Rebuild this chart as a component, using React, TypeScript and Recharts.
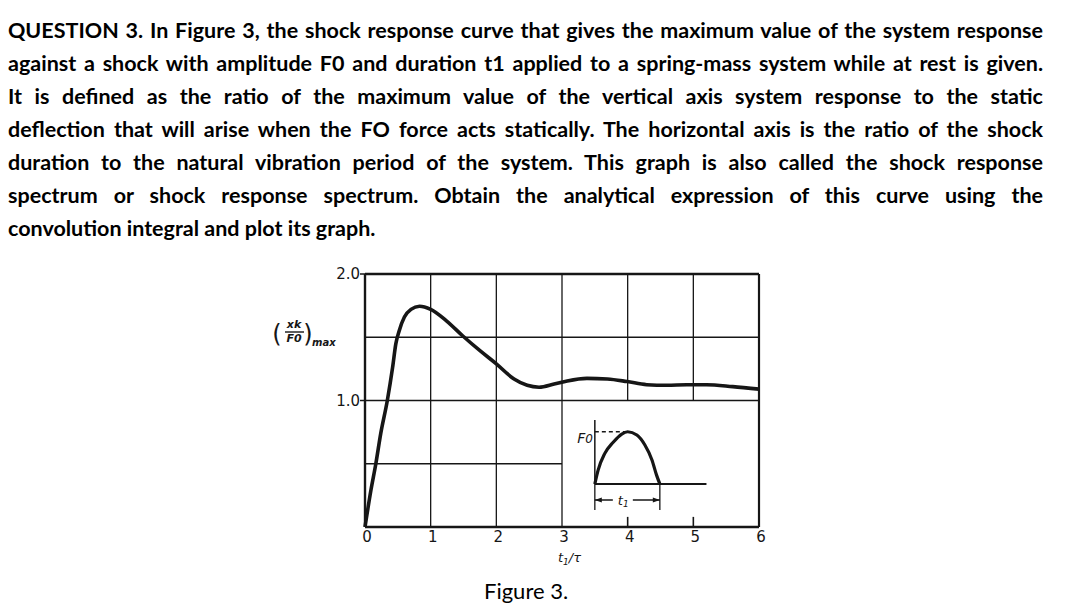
import React from 'react';
import { LineChart, Line, XAxis, YAxis, ReferenceLine } from 'recharts';

const questionLines = [
  'QUESTION 3. In Figure 3, the shock response curve that gives the maximum value of the system response',
  'against a shock with amplitude F0 and duration t1 applied to a spring-mass system while at rest is given.',
  'It is defined as the ratio of the maximum value of the vertical axis system response to the static',
  'deflection that will arise when the FO force acts statically. The horizontal axis is the ratio of the shock',
  'duration to the natural vibration period of the system. This graph is also called the shock response',
  'spectrum or shock response spectrum. Obtain the analytical expression of this curve using the',
  'convolution integral and plot its graph.',
];

// t1/tau values and (xk/F0)max
const ratio = [
  0, 0.09, 0.165, 0.24, 0.34, 0.42, 0.47, 0.52, 0.6, 0.7, 0.83, 1.0, 1.24, 1.49, 1.76, 2.0,
  2.27, 2.47, 2.65, 2.88, 3.08, 3.38, 3.69, 3.99, 4.29, 4.6, 4.9, 5.2, 5.6, 6.0,
];
const response = [
  0, 0.29, 0.5, 0.74, 1.0, 1.26, 1.45, 1.55, 1.66, 1.72, 1.745, 1.72, 1.63, 1.51, 1.39, 1.29,
  1.17, 1.12, 1.105, 1.13, 1.155, 1.175, 1.17, 1.15, 1.125, 1.12, 1.125, 1.125, 1.11, 1.09,
];

// the small half-sine pulse sketch drawn inside the plot
const pulseTime = [3.5, 3.55, 3.65, 3.78, 3.91, 4.0, 4.14, 4.26, 4.37, 4.44, 4.49];
const pulseForce = [0.34, 0.45, 0.58, 0.67, 0.735, 0.753, 0.727, 0.65, 0.53, 0.41, 0.34];

const xTicks = [0, 1, 2, 3, 4, 5, 6];
const yTicks = [1, 2];

const curveData = ratio.map((x, i) => ({ x, y: response[i] }));
const pulseData = pulseTime.map((x, i) => ({ x, y: pulseForce[i] }));

const INK = '#161616';
const CHART_FONT = '"DejaVu Sans", sans-serif';

const YLabel = ({ viewBox }: any) => {
  const x0 = viewBox.x - 38;
  const y0 = viewBox.y;
  return (
    <g fill={INK} fontFamily={CHART_FONT}>
      <text x={x0} y={y0 + 68} fontSize={24} textAnchor="middle">(</text>
      <text x={x0 + 17} y={y0 + 54} fontSize={11} fontStyle="italic" fontWeight="bold" textAnchor="middle">xk</text>
      <line x1={x0 + 8} x2={x0 + 27} y1={y0 + 58} y2={y0 + 58} stroke={INK} strokeWidth={1.4} />
      <text x={x0 + 17} y={y0 + 68} fontSize={11} fontStyle="italic" fontWeight="bold" textAnchor="middle">F0</text>
      <text x={x0 + 31} y={y0 + 68} fontSize={24} textAnchor="middle">)</text>
      <text x={x0 + 35} y={y0 + 72} fontSize={10} fontStyle="italic" fontWeight="bold">max</text>
    </g>
  );
};

const XLabel = ({ viewBox }: any) => (
  <text x={viewBox.x + 193} y={viewBox.y + 35} fill={INK} fontFamily={CHART_FONT} fontStyle="italic" fontSize={13}>
    t<tspan fontSize={9} dy={3}>1</tspan>
    <tspan dy={-3}>/τ</tspan>
  </text>
);

const ForceLabel = ({ viewBox }: any) => (
  <text x={viewBox.x - 2} y={viewBox.y + 11} textAnchor="end" fill={INK} fontFamily={CHART_FONT} fontStyle="italic" fontSize={14}>
    F<tspan fontSize={12}>0</tspan>
  </text>
);

const DurationLabel = ({ viewBox }: any) => {
  const cx = viewBox.x + 28;
  return (
    <g>
      <rect x={cx - 10} y={viewBox.y - 6} width={20} height={12} fill="#fff" />
      <text x={cx - 5} y={viewBox.y + 5} fill={INK} fontFamily={CHART_FONT} fontStyle="italic" fontSize={13}>
        t<tspan fontSize={9} dy={2}>1</tspan>
      </text>
    </g>
  );
};

const ArrowLine = (props: any) => {
  const { x1, y1, x2, y2 } = props;
  const head = 7;
  return (
    <g>
      <line x1={x1} y1={y1} x2={x2} y2={y2} stroke={INK} strokeWidth={1.4} />
      <polygon points={`${x1},${y1} ${x1 + head},${y1 - 2.5} ${x1 + head},${y1 + 2.5}`} fill={INK} />
      <polygon points={`${x2},${y2} ${x2 - head},${y2 - 2.5} ${x2 - head},${y2 + 2.5}`} fill={INK} />
    </g>
  );
};

const seg = (xa: number, ya: number, xb: number, yb: number) => [
  { x: xa, y: ya },
  { x: xb, y: yb },
];

const ShockChart = () => (
  <LineChart width={520} height={330} margin={{ top: 19, right: 21, left: 55, bottom: 28 }}>
    <XAxis
      type="number"
      dataKey="x"
      domain={[0, 6]}
      ticks={xTicks}
      tickLine={false}
      tickSize={0}
      tickMargin={4}
      axisLine={{ stroke: INK, strokeWidth: 2.4 }}
      tick={{ fill: INK, fontSize: 15, fontFamily: CHART_FONT, dx: 2 }}
      height={30}
      label={(p: any) => <XLabel {...p} />}
    />
    <YAxis
      type="number"
      dataKey="y"
      domain={[0, 2]}
      ticks={yTicks}
      width={50}
      tickSize={5}
      tickMargin={0}
      tickFormatter={(v: number) => v.toFixed(1)}
      tickLine={{ stroke: INK, strokeWidth: 1.5 }}
      axisLine={{ stroke: INK, strokeWidth: 2.4 }}
      tick={{ fill: INK, fontSize: 15, fontFamily: CHART_FONT }}
      label={(p: any) => <YLabel {...p} />}
    />

    {/* frame and the partial grid */}
    <ReferenceLine y={2} stroke={INK} strokeWidth={2.4} />
    <ReferenceLine x={6} stroke={INK} strokeWidth={2.2} />
    <ReferenceLine y={1.5} stroke={INK} strokeWidth={1.5} />
    <ReferenceLine y={1} stroke={INK} strokeWidth={1.7} />
    <ReferenceLine segment={seg(0, 0.5, 3, 0.5)} stroke={INK} strokeWidth={1.5} />
    <ReferenceLine x={1} stroke={INK} strokeWidth={1.3} />
    <ReferenceLine x={2} stroke={INK} strokeWidth={1.3} />
    <ReferenceLine x={3} stroke={INK} strokeWidth={1.3} />
    <ReferenceLine segment={seg(4, 1, 4, 2)} stroke={INK} strokeWidth={1.3} />
    <ReferenceLine segment={seg(5, 1, 5, 2)} stroke={INK} strokeWidth={1.3} />
    <ReferenceLine segment={seg(4, 0, 4, 0.08)} stroke={INK} strokeWidth={1.6} />
    <ReferenceLine segment={seg(5, 0, 5, 0.08)} stroke={INK} strokeWidth={1.6} />

    {/* pulse sketch */}
    <ReferenceLine segment={seg(3.5, 0.34, 3.5, 0.846)} stroke={INK} strokeWidth={1.5} />
    <ReferenceLine segment={seg(3.5, 0.34, 5.2, 0.34)} stroke={INK} strokeWidth={2} />
    <ReferenceLine
      segment={seg(3.5, 0.753, 4.0, 0.753)}
      stroke={INK}
      strokeWidth={1.3}
      strokeDasharray="4 3"
      label={(p: any) => <ForceLabel {...p} />}
    />
    <ReferenceLine segment={seg(3.5, 0.34, 3.5, 0.134)} stroke={INK} strokeWidth={1.3} />
    <ReferenceLine segment={seg(4.49, 0.34, 4.49, 0.134)} stroke={INK} strokeWidth={1.3} />
    <ReferenceLine
      segment={seg(3.5, 0.213, 4.49, 0.213)}
      shape={(p: any) => <ArrowLine {...p} />}
      label={(p: any) => <DurationLabel {...p} />}
    />
    <Line
      data={pulseData}
      dataKey="y"
      type="monotone"
      stroke={INK}
      strokeWidth={3.2}
      dot={false}
      isAnimationActive={false}
    />

    <Line
      data={curveData}
      dataKey="y"
      type="monotone"
      stroke={INK}
      strokeWidth={3.6}
      strokeLinejoin="round"
      dot={false}
      isAnimationActive={false}
    />
  </LineChart>
);

export default function App() {
  return (
    <div style={{ position: 'fixed', left: 0, top: 0, width: 1065, height: 616, background: '#fff', overflow: 'hidden' }}>
      <div
        style={{
          position: 'absolute',
          left: 8,
          top: 14,
          width: 1035,
          fontFamily: 'Lato, "Open Sans", sans-serif',
          fontWeight: 700,
          fontSize: 21.5,
          lineHeight: '33px',
          color: '#000',
        }}
      >
        {questionLines.map((line, i) => (
          <div
            key={i}
            style={{
              textAlign: 'justify',
              textAlignLast: i < questionLines.length - 1 ? 'justify' : 'left',
            }}
          >
            {line}
          </div>
        ))}
      </div>

      <div style={{ position: 'absolute', left: 260, top: 255 }}>
        <ShockChart />
      </div>

      <div
        style={{
          position: 'absolute',
          left: 484,
          top: 580,
          fontFamily: 'Lato, "Open Sans", sans-serif',
          fontSize: 22,
          lineHeight: '22px',
          color: '#000',
        }}
      >
        Figure 3.
      </div>
    </div>
  );
}
